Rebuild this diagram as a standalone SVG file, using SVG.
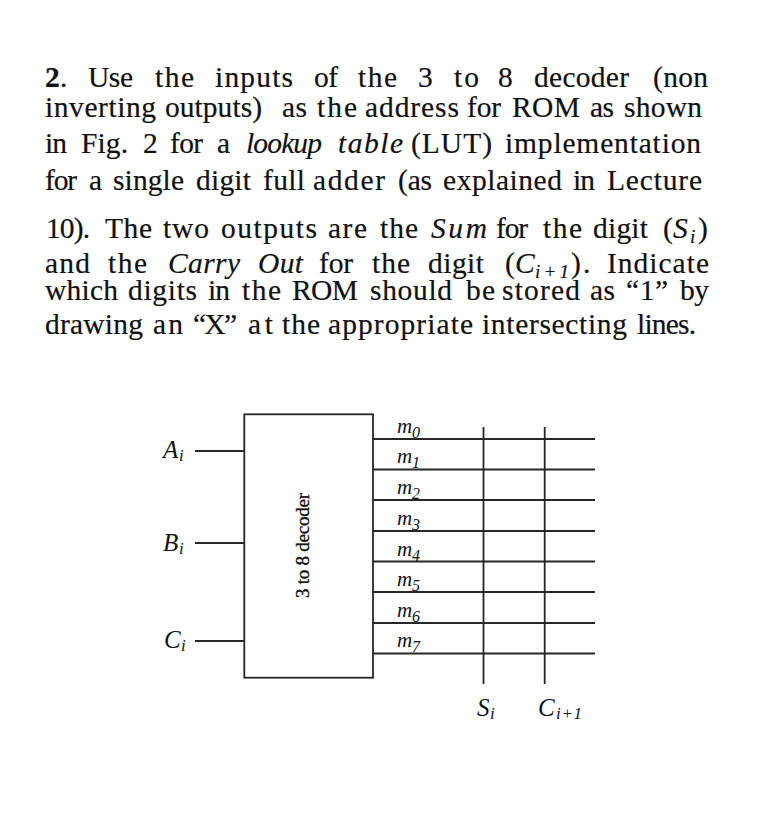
<svg xmlns="http://www.w3.org/2000/svg" width="760" height="814" viewBox="0 0 760 814">
<style>
text{font-family:"Liberation Serif","Times New Roman",serif;fill:#111}
.b{font-size:29.5px;stroke:#111;stroke-width:.2}
.i{font-style:italic}
.h{font-weight:bold}
.s{font-size:19px}
.m{font-size:21px;font-style:italic}
.ms{font-size:16px;font-style:italic}
.l{font-size:25px;font-style:italic}
.ls{font-size:17px;font-style:italic}
.w{stroke:#262626;stroke-width:1.8;fill:none}
</style>
<rect width="760" height="814" fill="#fff"/>
<g id="problem-text">
<text class="b" y="87"><tspan x="45" class="h" textLength="14">2</tspan><tspan x="60">.</tspan><tspan x="88" textLength="45">Use</tspan><tspan x="155" textLength="39">the</tspan><tspan x="215" textLength="78">inputs</tspan><tspan x="314" textLength="24">of</tspan><tspan x="358" textLength="39">the</tspan><tspan x="418" textLength="15">3</tspan><tspan x="454" textLength="25">to</tspan><tspan x="498" textLength="15">8</tspan><tspan x="534" textLength="95">decoder</tspan><tspan x="653" textLength="55">(non</tspan></text>
<text class="b" y="117"><tspan x="45" textLength="111">inverting</tspan><tspan x="165" textLength="97">outputs)</tspan><tspan x="282" textLength="25">as</tspan><tspan x="317" textLength="40">the</tspan><tspan x="365" textLength="94">address</tspan><tspan x="467" textLength="34">for</tspan><tspan x="512" textLength="68">ROM</tspan><tspan x="590" textLength="24">as</tspan><tspan x="624" textLength="78">shown</tspan></text>
<text class="b" y="153"><tspan x="45" textLength="22">in</tspan><tspan x="81" textLength="47">Fig.</tspan><tspan x="143" textLength="14">2</tspan><tspan x="170" textLength="33">for</tspan><tspan x="217" textLength="15">a</tspan><tspan x="246" class="i" textLength="76">lookup</tspan><tspan x="338" class="i" textLength="65">table</tspan><tspan x="411" textLength="81">(LUT)</tspan><tspan x="505" textLength="196">implementation</tspan></text>
<text class="b" y="190"><tspan x="45" textLength="32">for</tspan><tspan x="89" textLength="15">a</tspan><tspan x="113" textLength="71">single</tspan><tspan x="196" textLength="55">digit</tspan><tspan x="263" textLength="42">full</tspan><tspan x="313" textLength="72">adder</tspan><tspan x="398" textLength="34">(as</tspan><tspan x="443" textLength="119">explained</tspan><tspan x="573" textLength="22">in</tspan><tspan x="607" textLength="95">Lecture</tspan></text>
<text class="b" y="238"><tspan x="46" textLength="44">10).</tspan><tspan x="105" textLength="47">The</tspan><tspan x="163" textLength="46">two</tspan><tspan x="221" textLength="96">outputs</tspan><tspan x="328" textLength="39">are</tspan><tspan x="380" textLength="38">the</tspan><tspan x="431" class="i" textLength="56">Sum</tspan><tspan x="496" textLength="32">for</tspan><tspan x="543" textLength="39">the</tspan><tspan x="593" textLength="55">digit</tspan><tspan x="663">(</tspan><tspan x="673" class="i">S</tspan><tspan x="690" y="243" class="i" font-size="19">i</tspan><tspan x="698" y="238">)</tspan></text>
<text class="b" y="273"><tspan x="45" textLength="45">and</tspan><tspan x="108" textLength="39">the</tspan><tspan x="168" class="i" textLength="72">Carry</tspan><tspan x="258" class="i" textLength="45">Out</tspan><tspan x="319" textLength="34">for</tspan><tspan x="372" textLength="38">the</tspan><tspan x="428" textLength="56">digit</tspan><tspan x="505">(</tspan><tspan x="515" class="i">C</tspan><tspan x="535" y="278" class="i" font-size="19" textLength="34">i+1</tspan><tspan x="571" y="273">)</tspan><tspan x="583">.</tspan><tspan x="607" textLength="102">Indicate</tspan></text>
<text class="b" y="300"><tspan x="45" textLength="73">which</tspan><tspan x="128" textLength="69">digits</tspan><tspan x="208" textLength="22">in</tspan><tspan x="242" textLength="39">the</tspan><tspan x="292" textLength="66">ROM</tspan><tspan x="370" textLength="82">should</tspan><tspan x="466" textLength="29">be</tspan><tspan x="502" textLength="78">stored</tspan><tspan x="590" textLength="25">as</tspan><tspan x="626" textLength="42">“1”</tspan><tspan x="680" textLength="29">by</tspan></text>
<text class="b" y="334"><tspan x="45" textLength="98">drawing</tspan><tspan x="153" textLength="30">an</tspan><tspan x="193" textLength="44">“X”</tspan><tspan x="248" textLength="25">at</tspan><tspan x="282" textLength="38">the</tspan><tspan x="328" textLength="145">appropriate</tspan><tspan x="482" textLength="145">intersecting</tspan><tspan x="637" textLength="59">lines.</tspan></text>
</g>
<g id="connectors">
<path class="w" d="M195 451H244M195 543H244M195 641H244"/>
<path class="w" d="M373 439H595M373 469.5H595M373 500H595M373 531H595M373 561.5H595M373 592H595M373 623H595M373 653.5H595"/>
<path class="w" d="M483.5 427V684M544.7 427V684"/>
</g>
<g id="decoder">
<rect class="w" x="244.3" y="414.3" width="128.7" height="263.4" fill="#fff"/>
<text class="s" transform="translate(309 598) rotate(-90)" textLength="105" stroke="#111" stroke-width="0.35">3 to 8 decoder</text>
</g>
<g id="input-a"><text class="l" x="163" y="458">A</text><text class="ls" x="179" y="461">i</text></g>
<g id="input-b"><text class="l" x="163" y="551">B</text><text class="ls" x="179" y="554">i</text></g>
<g id="input-c"><text class="l" x="164" y="648">C</text><text class="ls" x="181" y="651">i</text></g>
<g id="m0"><text class="m" x="397" y="433">m</text><text class="ms" x="412" y="438">0</text></g>
<g id="m1"><text class="m" x="397" y="463">m</text><text class="ms" x="412" y="468">1</text></g>
<g id="m2"><text class="m" x="397" y="494">m</text><text class="ms" x="412" y="499">2</text></g>
<g id="m3"><text class="m" x="397" y="525">m</text><text class="ms" x="412" y="530">3</text></g>
<g id="m4"><text class="m" x="397" y="556">m</text><text class="ms" x="412" y="561">4</text></g>
<g id="m5"><text class="m" x="397" y="586">m</text><text class="ms" x="412" y="591">5</text></g>
<g id="m6"><text class="m" x="397" y="617">m</text><text class="ms" x="412" y="622">6</text></g>
<g id="m7"><text class="m" x="397" y="647">m</text><text class="ms" x="412" y="652">7</text></g>
<g id="output-s"><text class="l" x="477" y="716">S</text><text class="ls" x="490" y="719">i</text></g>
<g id="output-c"><text class="l" x="538" y="716">C</text><text class="ls" x="556" y="719" textLength="26">i+1</text></g>
</svg>
